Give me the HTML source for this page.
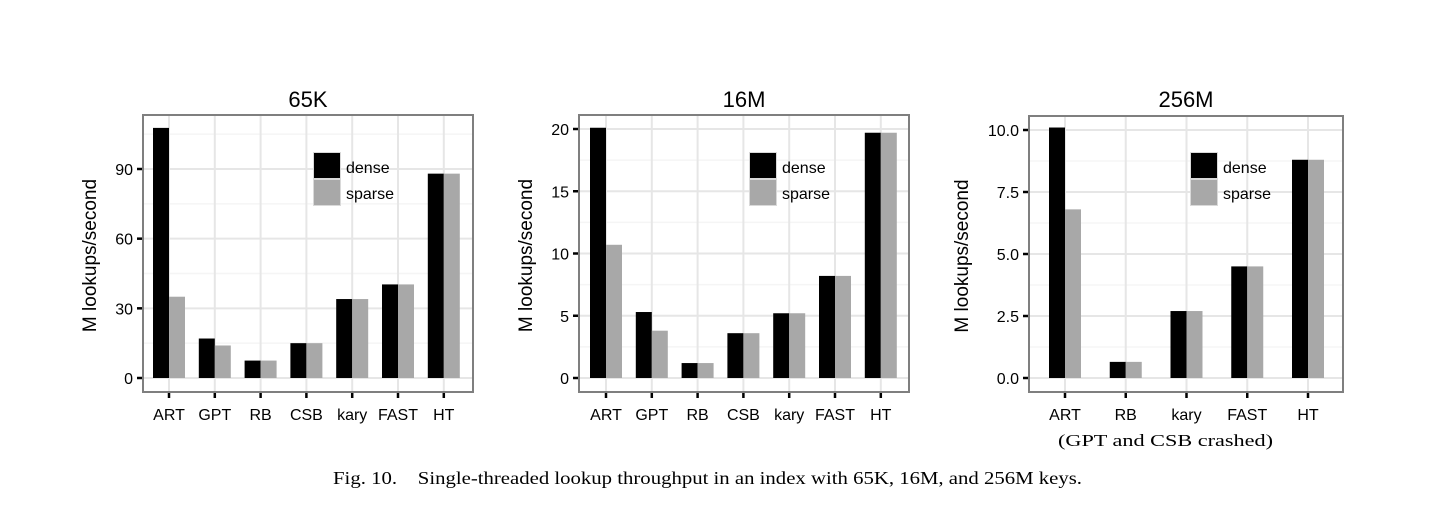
<!DOCTYPE html>
<html><head><meta charset="utf-8"><style>
html,body{margin:0;padding:0;background:#fff;}
svg{display:block;}
text{font-family:"Liberation Sans",sans-serif;}
</style></head><body>
<svg id="fig" width="1440" height="514" viewBox="0 0 1440 514" xmlns="http://www.w3.org/2000/svg">
<text x="333" y="484" textLength="749" lengthAdjust="spacingAndGlyphs" style="font-family:'Liberation Serif',serif;font-size:18px;white-space:pre" fill="#000">Fig. 10.    Single-threaded lookup throughput in an index with 65K, 16M, and 256M keys.</text>
<text x="1058" y="446" textLength="215" lengthAdjust="spacingAndGlyphs" style="font-family:'Liberation Serif',serif;font-size:16.5px" fill="#000">(GPT and CSB crashed)</text>
</svg>
<script>
// Panel 1: 65K
const cats65K = ["ART","GPT","RB","CSB","kary","FAST","HT"];
const dense65K = [107.7,17,7.5,15,34,40.3,88];
const sparse65K = [35,14,7.5,15,34,40.3,88];
const ticks65K = [0,30,60,90];
const tickLabels65K = ["0","30","60","90"];
// Panel 2: 16M
const cats16M = ["ART","GPT","RB","CSB","kary","FAST","HT"];
const dense16M = [20.1,5.3,1.2,3.6,5.2,8.2,19.7];
const sparse16M = [10.7,3.8,1.2,3.6,5.2,8.2,19.7];
const ticks16M = [0,5,10,15,20];
const tickLabels16M = ["0","5","10","15","20"];
// Panel 3: 256M
const cats256M = ["ART","RB","kary","FAST","HT"];
const dense256M = [10.1,0.65,2.7,4.5,8.8];
const sparse256M = [6.8,0.65,2.7,4.5,8.8];
const ticks256M = [0,2.5,5,7.5,10];
const tickLabels256M = ["0.0","2.5","5.0","7.5","10.0"];

const svg = document.getElementById('fig');
const NS = 'http://www.w3.org/2000/svg';
function mk(tag, attrs, parent){
  const e = document.createElementNS(NS, tag);
  for (const k in attrs) e.setAttribute(k, attrs[k]);
  (parent||svg).appendChild(e);
  return e;
}

function panel(cfg){
  const g = mk('g', {});
  
  
  const {x0,x1,y0,y1,zeroY,maxV,maxY} = cfg;
  const per = (zeroY - maxY) / maxV;
  const yS = v => zeroY - v * per;
  const n = cfg.cats.length;
  const step = cfg.step;
  const xS = i => cfg.firstX + i * step;
  for (let i = 0; i < cfg.ticks.length; i++){
    const mv = cfg.ticks[i] + (cfg.ticks[1]-cfg.ticks[0])/2;
    const yy = yS(mv);
    if (yy > y0 && yy < y1){
      const l = mk('line', {x1:x0, x2:x1, y1:yy, y2:yy, stroke:'#f5f5f5', 'stroke-width':1.5}, g);
      
      
    }
  }
  cfg.ticks.forEach((t, i) => {
    const yy = yS(t);
    const l = mk('line', {x1:x0, x2:x1, y1:yy, y2:yy, stroke:'#e6e6e6', 'stroke-width':2}, g);
    
    
    const tk = mk('line', {x1:x0-6, x2:x0, y1:yy, y2:yy, stroke:'#000', 'stroke-width':2.5}, g);
    
    
    const tx = mk('text', {x:x0-10, y:yy+6, 'text-anchor':'end', 'font-size':16, fill:'#000'}, g);
    tx.textContent = cfg.tickLabels[i];
    
    
  });
  for (let i = 0; i < n; i++){
    const xx = xS(i);
    const l = mk('line', {x1:xx, x2:xx, y1:y0, y2:y1, stroke:'#e6e6e6', 'stroke-width':2}, g);
    
    
  }
  const lx = cfg.legX, ly = 153;
  const lb = mk('rect', {x:lx-1, y:ly-1, width:28, height:54, fill:'#d9d9d9'}, g);
  
  
  const k1 = mk('rect', {x:lx, y:ly, width:26, height:25, fill:'#000'}, g);
  
  
  const k2 = mk('rect', {x:lx, y:ly+27, width:26, height:25, fill:'#a8a8a8'}, g);
  
  
  const t1 = mk('text', {x:lx+32, y:ly+20, 'font-size':16, fill:'#000'}, g);
  t1.textContent = 'dense';
  
  
  const t2 = mk('text', {x:lx+32, y:ly+46, 'font-size':16, fill:'#000'}, g);
  t2.textContent = 'sparse';
  
  
  const bw = 16;
  for (let i = 0; i < n; i++){
    const xx = xS(i);
    const d = mk('rect', {x:xx-bw, y:yS(cfg.dense[i]), width:bw, height:zeroY-yS(cfg.dense[i]), fill:'#000'}, g);
    
    
    const s = mk('rect', {x:xx, y:yS(cfg.sparse[i]), width:bw, height:zeroY-yS(cfg.sparse[i]), fill:'#a8a8a8'}, g);
    
    
    const tk = mk('line', {x1:xx, x2:xx, y1:y1, y2:y1+6, stroke:'#000', 'stroke-width':2.5}, g);
    
    
    const tx = mk('text', {x:xx, y:y1+28, 'text-anchor':'middle', 'font-size':16, fill:'#000'}, g);
    tx.textContent = cfg.cats[i];
    
    
  }
  const border = mk('rect', {x:x0, y:y0, width:x1-x0, height:y1-y0, fill:'none', stroke:'#7f7f7f', 'stroke-width':2}, g);
  
  
  const tt = mk('text', {x:(x0+x1)/2, y:107, 'text-anchor':'middle', 'font-size':22, fill:'#000'}, g);
  tt.textContent = cfg.title;
  
  
  const ay = (y0+y1)/2 + 2;
  const at = mk('text', {x:cfg.axX, y:ay, 'text-anchor':'middle', 'font-size':19, fill:'#000', transform:'rotate(-90 '+cfg.axX+' '+ay+')'}, g);
  at.textContent = 'M lookups/second';
  
  
}

panel({title:'65K', cats:cats65K, dense:dense65K, sparse:sparse65K, ticks:ticks65K, tickLabels:tickLabels65K,
  x0:143, x1:473, y0:115, y1:392, zeroY:378, maxV:90, maxY:169, firstX:169, step:45.8, legX:314, axX:96});
panel({title:'16M', cats:cats16M, dense:dense16M, sparse:sparse16M, ticks:ticks16M, tickLabels:tickLabels16M,
  x0:579, x1:909, y0:115, y1:392, zeroY:378, maxV:20, maxY:129, firstX:606, step:45.8, legX:750, axX:532});
panel({title:'256M', cats:cats256M, dense:dense256M, sparse:sparse256M, ticks:ticks256M, tickLabels:tickLabels256M,
  x0:1029, x1:1343, y0:116, y1:392, zeroY:378, maxV:10, maxY:130, firstX:1065, step:60.75, legX:1191, axX:968});
</script>
</body></html>
